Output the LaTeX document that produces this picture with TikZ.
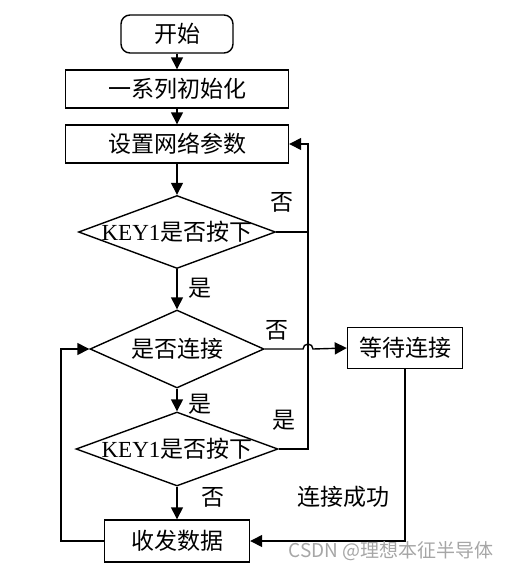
\documentclass[tikz,border=0pt]{standalone}
\usepackage{fontspec}
\setmainfont{Liberation Serif}
\newfontfamily\cjk{Noto Sans CJK SC}
\usetikzlibrary{shapes.geometric,arrows.meta}

\begin{document}
\begin{tikzpicture}[x=1pt,y=-1pt,line width=1.4pt,
  font=\fontsize{23}{26}\selectfont\cjk,
  procbox/.style={rectangle,draw,inner sep=0,minimum height=38pt,minimum width=223pt},
  termbox/.style={rectangle,draw,rounded corners=9pt,inner sep=0,minimum height=38pt,minimum width=112pt},
  decision/.style={diamond,draw,inner sep=0,text=black},
  flow/.style={-{Triangle[length=12pt,width=12pt]}},
  answer/.style={inner sep=0}]
 \useasboundingbox (0,0) rectangle (512,570);

 \node [termbox] (start) at (177,34) {开始};
 \node [procbox] (init) at (177,89) {一系列初始化};
 \node [procbox] (param) at (177,144) {设置网络参数};
 \node [decision,minimum width=197pt,minimum height=73pt,
        label={center:{\rmfamily KEY1}{\cjk 是否按下}}] (key1a) at (177,232) {};
 \node [decision,minimum width=174pt,minimum height=78pt,
        label={center:是否连接}] (conn) at (177,349) {};
 \node [decision,minimum width=202pt,minimum height=74pt,
        label={center:{\rmfamily KEY1}{\cjk 是否按下}}] (key1b) at (177,449) {};
 \node [procbox,minimum width=145pt,minimum height=42pt] (recv) at (177,541) {收发数据};
 \node [procbox,minimum width=115pt,minimum height=41pt] (wait) at (405,348) {等待连接};

 \coordinate (rt) at (308,144);
 \coordinate (lf) at (61,349);
 \coordinate (hop) at (308,349);

 \draw [flow] (start) -- (init);
 \draw [flow] (init) -- (param);
 \draw [flow] (param) -- (key1a);
 \draw [flow] (key1a) -- (conn);
 \draw [flow] (conn) -- (key1b);
 \draw [flow] (key1b) -- (recv);
 \draw (key1a.east) -- (key1a.east -| rt);
 \draw [flow] (key1b.east) -| (rt) -- (param.east);
 \draw [flow] (conn.east) -- ([xshift=-5pt]hop) arc[start angle=180,end angle=0,radius=5pt] -- (wait.west);
 \draw [flow] (wait.south) |- (recv.east);
 \draw [flow] (recv.west) -| (lf) -- (conn.west);

 \node [answer] (no1) at (282,202) {否};
 \node [answer] (yes1) at (200,288) {是};
 \node [answer] (no2) at (277,330) {否};
 \node [answer] (yes2) at (200,404) {是};
 \node [answer] (yes3) at (284,420) {是};
 \node [answer] (no3) at (213,497) {否};
 \node [answer] (ok) at (343,497) {连接成功};
 \node [answer,text=gray!70,font=\fontsize{19}{21}\selectfont\cjk] (mark) at (391,551) {CSDN @理想本征半导体};
\end{tikzpicture}
\end{document}
